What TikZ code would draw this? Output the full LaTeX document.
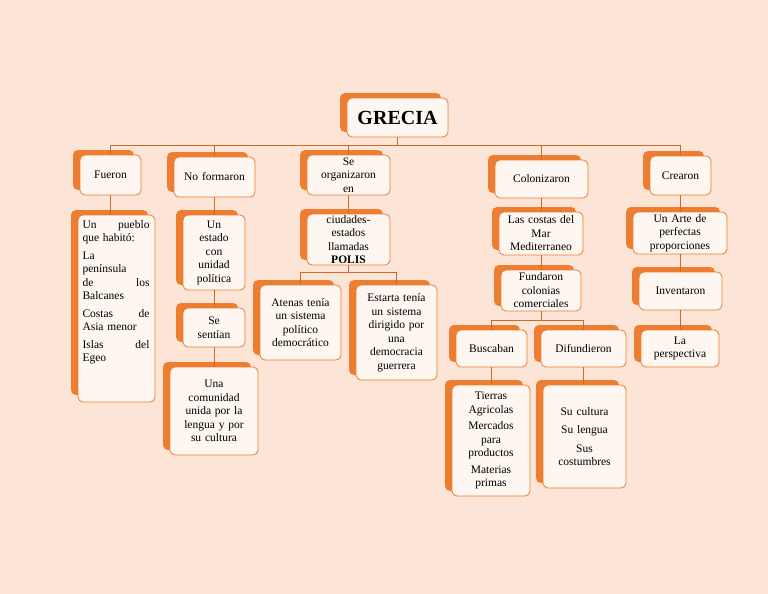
\documentclass[tikz,border=0pt]{standalone}
\usepackage{fontspec}
\setmainfont{Liberation Serif}
\usetikzlibrary{fit}
\definecolor{bg}{HTML}{FCE4D6}
\definecolor{org}{HTML}{ED7D31}
\definecolor{fr}{HTML}{FEF6F1}
\tikzset{x=1pt,y=-1pt,
 back/.style={fill=org,rounded corners=5pt},
 front/.style={draw=org,fill=fr,rounded corners=5pt,line width=0.8pt,inner sep=0pt},
 txt/.style={align=center,font=\fontsize{11.5}{13.5}\selectfont,inner sep=0pt},
 conn/.style={draw=org!85!black,line width=0.6pt}}
\newcommand{\bx}[7]{%
 \fill[back] (#2-7,#3-5) rectangle (#4-7,#5-5);
 \node[front,fit={(#2,#3)(#4,#5)}] (#1) {};
 \node[txt,text width=#6] (#1t) at (#1.center) {#7};}
\begin{document}
\begin{tikzpicture}
\fill[bg] (0,0) rectangle (768,594);
\bx{gr}{347}{98}{448}{137}{90pt}{\fontsize{20}{22}\selectfont\bfseries GRECIA}
\bx{fue}{80}{155}{141}{195}{55pt}{Fueron}
\bx{nof}{174}{157}{255}{197}{78pt}{No formaron}
\bx{seo}{307}{155}{390}{195}{75pt}{Se\\organizaron\\en}
\bx{col}{495}{160}{588}{198}{85pt}{Colonizaron}
\bx{cre}{650}{156}{711}{195}{55pt}{Crearon}
\fill[back] (71,210) rectangle (148,395);
\node[front,fit={(78,215)(155,402)}] (pue) {};
\node[align=left,font=\fontsize{11.5}{13.5}\selectfont,inner sep=0pt,text width=67pt,anchor=north] (puet) at (116,220)
 {Un\hfill pueblo\\que habitó:\\[4pt]La\\península\\de\hfill los\\Balcanes\\[4pt]Costas\hfill de\\Asia menor\\[4pt]Islas\hfill del\\Egeo};
\bx{est}{183}{215}{245}{290}{58pt}{Un\\estado\\con\\unidad\\política}
\bx{ses}{183}{308}{245}{347}{58pt}{Se\\sentían}
\bx{com}{170}{367}{258}{455}{80pt}{Una\\comunidad\\unida por la\\lengua y por\\su cultura}
\bx{ciu}{307}{214}{390}{265}{75pt}{ciudades-\\estados\\llamadas\\\textbf{POLIS}}
\bx{ate}{260}{285}{341}{360}{78pt}{Atenas tenía\\un sistema\\político\\democrático}
\bx{esp}{356}{285}{437}{380}{78pt}{Estarta tenía\\un sistema\\dirigido por\\una\\democracia\\guerrera}
\bx{cos}{499}{212}{583}{255}{82pt}{Las costas del\\Mar\\Mediterraneo}
\bx{fun}{501}{270}{581}{311}{75pt}{Fundaron\\colonias\\comerciales}
\bx{bus}{456}{330}{527}{367}{65pt}{Buscaban}
\bx{dif}{541}{330}{626}{367}{80pt}{Difundieron}
\bx{tie}{452}{385}{530}{496}{72pt}{Tierras\\Agricolas\\[3pt]Mercados\\para\\productos\\[3pt]Materias\\primas}
\bx{suc}{543}{385}{626}{488}{78pt}{Su cultura\\[5pt]Su lengua\\[5pt]Sus\\costumbres}
\bx{art}{633}{212}{727}{254}{90pt}{Un Arte de\\perfectas\\proporciones}
\bx{inv}{639}{272}{722}{310}{80pt}{Inventaron}
\bx{per}{641}{330}{719}{367}{75pt}{La\\perspectiva}
\draw[conn] (gr.south) -- (gr.south |- 0,145);
\draw[conn] (fue.north |- 0,145) -- (cre.north |- 0,145);
\foreach \n in {fue,nof,seo,col,cre} \draw[conn] (\n.north |- 0,145) -- (\n.north);
\draw[conn] (fue.south) -- (fue.south |- pue.north);
\draw[conn] (nof.south) -- (nof.south |- est.north);
\draw[conn] (est.south) -- (est.south |- ses.north);
\draw[conn] (ses.south) -- (ses.south |- com.north);
\draw[conn] (seo.south) -- (ciu.north);
\draw[conn] (ciu.south) -- (ciu.south |- 0,272);
\draw[conn] (ate.north |- 0,272) -- (esp.north |- 0,272);
\draw[conn] (ate.north |- 0,272) -- (ate.north);
\draw[conn] (esp.north |- 0,272) -- (esp.north);
\draw[conn] (col.south) -- (col.south |- cos.north);
\draw[conn] (cos.south) -- (cos.south |- fun.north);
\draw[conn] (fun.south) -- (fun.south |- 0,320);
\draw[conn] (bus.north |- 0,320) -- (dif.north |- 0,320);
\draw[conn] (bus.north |- 0,320) -- (bus.north);
\draw[conn] (dif.north |- 0,320) -- (dif.north);
\draw[conn] (bus.south) -- (bus.south |- tie.north);
\draw[conn] (dif.south) -- (dif.south |- suc.north);
\draw[conn] (cre.south) -- (cre.south |- art.north);
\draw[conn] (art.south) -- (art.south |- inv.north);
\draw[conn] (inv.south) -- (inv.south |- per.north);
\end{tikzpicture}
\end{document}
